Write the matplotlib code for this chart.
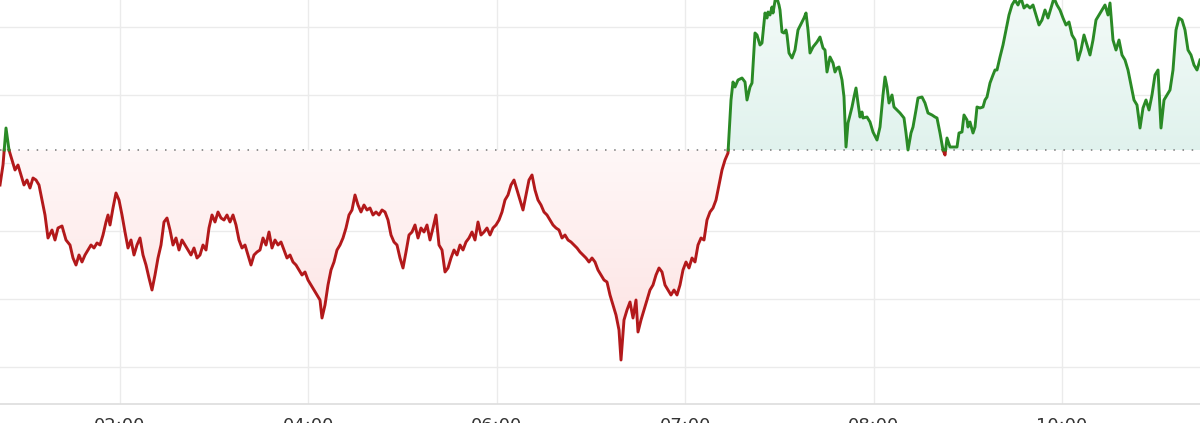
import numpy as np
import matplotlib
matplotlib.use("Agg")
import matplotlib.pyplot as plt

# intraday price (arbitrary units), previous close = 250
prev_close = 250
tick_pos = [120, 308.4, 496.8, 685.2, 873.6, 1062]
tick_labels = ["02:00", "04:00", "06:00", "07:00", "08:00", "10:00"]

minutes = [
    0, 3, 6, 9, 12, 15, 18, 21, 24, 27, 30, 33, 36, 39, 42, 45, 48, 52, 55, 58,
    62, 66, 70, 73, 76, 79, 82, 85, 88, 91, 94, 97, 100, 103, 106, 108, 110, 113, 116, 119,
    122, 125, 128, 131, 134, 137, 140, 143, 146, 149, 152, 155, 158, 161, 164, 167, 170, 173, 176, 179,
    182, 185, 188, 191, 194, 197, 200, 203, 206, 209, 212, 215, 218, 221, 224, 227, 230, 233, 236, 239,
    242, 245, 248, 251, 254, 257, 260, 263, 266, 269, 272, 275, 278, 281, 284, 287, 290, 293, 296, 299,
    302, 305, 308, 311, 314, 317, 320, 322, 325, 328, 331, 334, 337, 340, 343, 346, 349, 352, 355, 358,
    361, 364, 367, 370, 373, 376, 379, 382, 385, 388, 391, 394, 397, 400, 403, 406, 409, 412, 415, 418,
    421, 424, 427, 430, 433, 436, 439, 442, 445, 448, 451, 454, 457, 460, 463, 466, 469, 472, 475, 478,
    481, 484, 487, 490, 493, 496, 499, 502, 505, 508, 511, 514, 517, 520, 523, 526, 529, 532, 535, 538,
    541, 544, 547, 550, 553, 556, 559, 562, 565, 568, 571, 574, 577, 580, 583, 586, 589, 592, 595, 598,
    601, 604, 607, 610, 613, 616, 619, 621, 624, 627, 630, 633, 636, 638, 641, 644, 647, 650, 653, 656,
    659, 662, 665, 668, 671, 674, 677, 680, 683, 686, 689, 692, 695, 698, 701, 704, 707, 710, 713, 716,
    719, 722, 725, 728, 731, 733, 735, 738, 742, 745, 747, 750, 752, 755, 757, 760, 762, 765, 767, 768,
    770, 772, 773, 776, 779, 780, 782, 784, 786, 787, 789, 792, 795, 798, 802, 804, 806, 808, 810, 813,
    817, 820, 823, 825, 827, 828, 830, 833, 835, 837, 839, 842, 844, 846, 848, 852, 854, 856, 858, 860,
    862, 863, 867, 870, 873, 877, 880, 883, 885, 887, 889, 892, 894, 897, 900, 904, 906, 908, 911, 913,
    916, 918, 922, 925, 928, 932, 935, 937, 940, 943, 945, 947, 950, 953, 957, 959, 962, 964, 967, 968,
    970, 973, 975, 977, 980, 983, 985, 987, 990, 993, 995, 997, 1000, 1003, 1006, 1009, 1012, 1015, 1018, 1021,
    1024, 1027, 1030, 1033, 1036, 1039, 1042, 1045, 1048, 1051, 1054, 1057, 1060, 1063, 1066, 1069, 1072, 1075, 1078, 1081,
    1084, 1087, 1090, 1093, 1096, 1099, 1102, 1105, 1108, 1110, 1113, 1116, 1119, 1122, 1125, 1128, 1131, 1134, 1137, 1140,
    1143, 1146, 1149, 1152, 1155, 1158, 1161, 1164, 1167, 1170, 1173, 1176, 1179, 1182, 1185, 1188, 1191, 1194, 1197, 1200,
]

price = [
    215, 235, 272, 250, 240, 230, 235, 225, 215, 220, 212, 222, 220, 215, 200, 185, 162, 170, 160, 172,
    174, 160, 155, 142, 135, 145, 138, 145, 150, 155, 152, 157, 155, 165, 178, 185, 175, 192, 207, 200,
    185, 168, 152, 160, 145, 155, 162, 145, 135, 122, 110, 125, 142, 155, 178, 182, 170, 155, 162, 150,
    160, 155, 150, 145, 152, 142, 145, 155, 150, 172, 185, 178, 188, 182, 180, 185, 178, 185, 175, 160,
    152, 155, 145, 135, 145, 148, 150, 162, 155, 168, 152, 160, 155, 158, 150, 142, 145, 138, 135, 130,
    125, 128, 120, 115, 110, 105, 100, 82, 95, 115, 130, 138, 150, 155, 162, 172, 185, 190, 205, 195,
    188, 195, 190, 192, 185, 188, 185, 190, 188, 180, 165, 158, 155, 142, 132, 148, 165, 168, 175, 162,
    172, 168, 175, 160, 172, 185, 155, 150, 128, 132, 142, 150, 145, 155, 150, 158, 162, 168, 160, 178,
    165, 168, 172, 165, 172, 175, 180, 188, 200, 205, 215, 220, 210, 200, 190, 205, 220, 225, 210, 200,
    195, 188, 185, 180, 175, 172, 170, 162, 165, 160, 158, 155, 152, 148, 145, 142, 138, 142, 138, 130,
    125, 120, 118, 105, 95, 85, 70, 40, 80, 90, 98, 82, 100, 68, 80, 90, 100, 110, 115, 125,
    132, 128, 115, 110, 105, 110, 105, 115, 130, 138, 132, 142, 138, 155, 162, 160, 180, 188, 192, 200,
    215, 230, 240, 247, 300, 318, 313, 320, 322, 318, 300, 313, 317, 367, 365, 355, 357, 387, 382, 388,
    385, 393, 387, 405, 395, 390, 368, 367, 370, 365, 347, 342, 350, 370, 378, 382, 387, 370, 347, 353,
    358, 363, 352, 350, 328, 333, 343, 337, 328, 332, 333, 320, 303, 253, 277, 293, 303, 312, 297, 283,
    288, 282, 283, 278, 268, 260, 273, 305, 323, 313, 297, 305, 293, 290, 287, 282, 267, 250, 267, 273,
    290, 302, 303, 297, 287, 285, 283, 282, 267, 250, 245, 262, 253, 253, 253, 267, 268, 285, 280, 273,
    278, 267, 273, 293, 292, 293, 300, 303, 317, 325, 330, 330, 343, 355, 370, 385, 395, 400, 395, 402,
    392, 395, 392, 395, 385, 375, 380, 390, 382, 392, 402, 395, 390, 382, 375, 378, 365, 360, 340, 350,
    365, 355, 345, 360, 380, 385, 390, 395, 385, 397, 360, 350, 360, 345, 340, 330, 315, 300, 295, 272,
    292, 300, 290, 305, 325, 330, 272, 300, 305, 310, 330, 370, 382, 380, 370, 350, 345, 335, 330, 340,
]

t = np.array(minutes, dtype=float)
v = np.array(price, dtype=float)

# insert the crossing points so the colour switch happens on the close line
tt, vv = [t[0]], [v[0]]
for i in range(1, len(t)):
    a, b = v[i - 1] - prev_close, v[i] - prev_close
    if a * b < 0:
        f = a / (a - b)
        tt.append(t[i - 1] + f * (t[i] - t[i - 1]))
        vv.append(prev_close)
    tt.append(t[i])
    vv.append(v[i])
tt = np.array(tt)
vv = np.array(vv)

red = "#b3191b"
green = "#2a8a26"

fig = plt.figure(figsize=(12, 4.23), dpi=100)
ax = fig.add_axes([0, 19 / 423, 1, 404 / 423])
ax.set_xlim(0, 1200)
ax.set_ylim(-4, 400)

# grid
for y in [33, 101, 169, 237, 305, 373]:
    ax.axhline(y, color="#ebebeb", lw=1, zorder=0)
for x in tick_pos:
    ax.axvline(x, color="#ebebeb", lw=1, zorder=0)

# gradient fills clipped to the area between line and previous close
def gradient_fill(where, c_top, c_bottom, y0, y1):
    poly = ax.fill_between(tt, vv, prev_close, where=where, color="none", lw=0)
    n = 256
    cols = np.linspace(np.array(c_top), np.array(c_bottom), n).reshape(n, 1, 4)
    img = ax.imshow(cols, extent=[0, 1200, y0, y1], origin="upper",
                    aspect="auto", zorder=1)
    path = poly.get_paths()[0] if len(poly.get_paths()) == 1 else None
    img.set_clip_path(poly.get_paths()[0] if path is not None else
                      matplotlib.path.Path.make_compound_path(*poly.get_paths()),
                      ax.transData)

gradient_fill(vv <= prev_close, (0.99, 0.88, 0.88, 1), (1, 0.97, 0.97, 1), prev_close, 30)
gradient_fill(vv >= prev_close, (0.88, 0.95, 0.93, 1), (0.95, 0.98, 0.97, 1), 400, prev_close)

ax.set_xlim(0, 1200)
ax.set_ylim(-4, 400)

ax.axhline(prev_close, color="#777777", lw=1.1, linestyle=(0, (1, 5)), zorder=2)

ax.plot(tt, np.where(vv <= prev_close, vv, np.nan), color=red, lw=2.1,
        solid_joinstyle="round", zorder=3)
ax.plot(tt, np.where(vv >= prev_close, vv, np.nan), color=green, lw=2.1,
        solid_joinstyle="round", zorder=3)

for s in ["top", "left", "right"]:
    ax.spines[s].set_visible(False)
ax.spines["bottom"].set_color("#dddddd")
ax.spines["bottom"].set_linewidth(1.2)
ax.set_yticks([])
ax.set_xticks(tick_pos)
ax.set_xticklabels(tick_labels, fontsize=13, color="#333333")
ax.tick_params(axis="x", length=0, pad=9)

fig.savefig("out.png", dpi=100)
